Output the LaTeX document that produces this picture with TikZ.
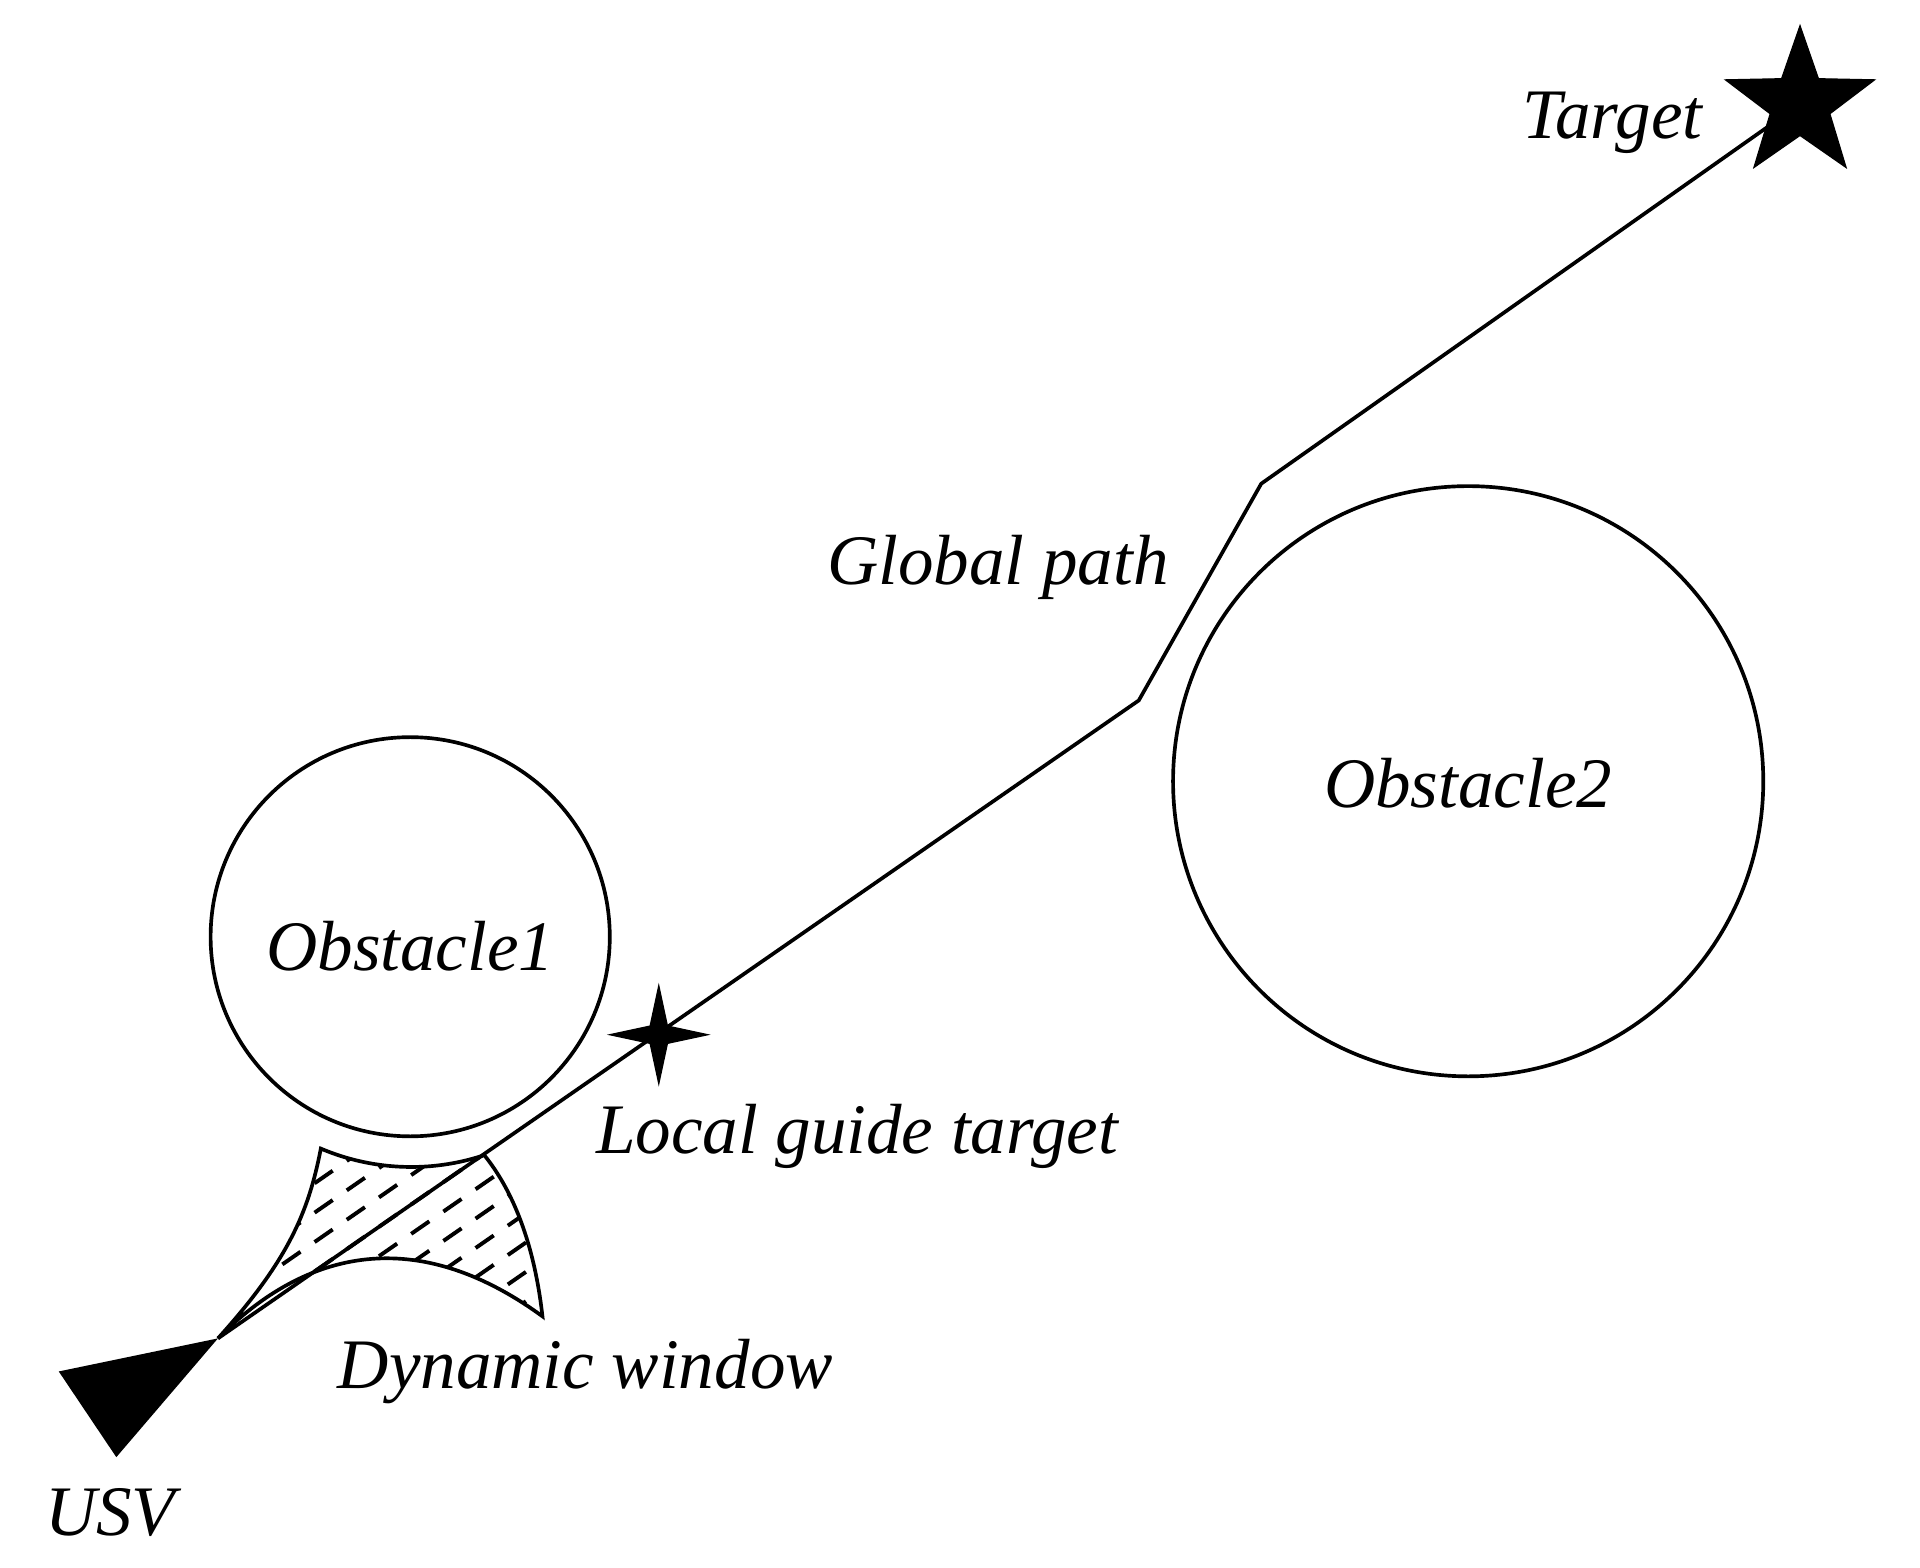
\documentclass[tikz,border=0pt]{standalone}
\usepackage{fontspec}
\setmainfont{Liberation Serif}
\usetikzlibrary{shapes.geometric,calc}
\begin{document}
\begin{tikzpicture}[x=0.5pt,y=-0.5pt,line width=1.5pt,
  lbl/.style={font=\fontsize{29}{33}\selectfont\itshape,inner sep=0pt},
  obst/.style={draw,circle,inner sep=0pt}]
\useasboundingbox (0,0) rectangle (1568,1280);
\node[obst,minimum size=163pt] (o1) at (335,765) {};
\node[obst,minimum size=241pt] (o2) at (1199,638) {};
\node[lbl] at (335,773) {Obstacle1};
\node[lbl] at (1199,640) {Obstacle2};
\coordinate (usv) at (178,1093);
\coordinate (b1) at (930,572);
\coordinate (b2) at (1030,395);
\node[star,star points=5,star point ratio=2.5,fill,draw,line width=0.5pt,minimum size=64pt,inner sep=0pt] (tgt) at (1470,85) {};
\node[star,star points=4,star point ratio=4,fill,draw,line width=0.5pt,minimum size=40pt,inner sep=0pt] (lg) at (538,845) {};
% dynamic window
\coordinate (wl) at (262,938);
\coordinate (wr) at (395,945);
\coordinate (wb) at (443,1075);
\begin{scope}
\clip (usv) .. controls (235,1030) and (252,990) .. (wl) arc[start angle=113,end angle=71.6,radius=189] .. controls (425,980) and (438,1030) .. (wb) .. controls (340,1000) and (250,1020) .. (usv) -- cycle;
\foreach \k in {-8,...,12}
  \draw[line width=1.6pt,dash pattern=on 9pt off 7pt] ($(usv)+(0,\k*24)$) -- ++(500,-346.5);
\end{scope}
\draw (usv) .. controls (235,1030) and (252,990) .. (wl) arc[start angle=113,end angle=71.6,radius=189] .. controls (425,980) and (438,1030) .. (wb) .. controls (340,1000) and (250,1020) .. (usv);
\fill (48,1120) -- (usv) -- (95,1190) -- cycle;
\draw (usv) -- (b1) -- (b2) -- (tgt.center);
\node[lbl,anchor=east] at (1392,100) {Target};
\node[lbl] at (815,463) {Global path};
\node[lbl] at (700,928) {Local guide target};
\node[lbl] at (478,1120) {Dynamic window};
\node[lbl] at (90,1235) {USV};
\end{tikzpicture}
\end{document}
